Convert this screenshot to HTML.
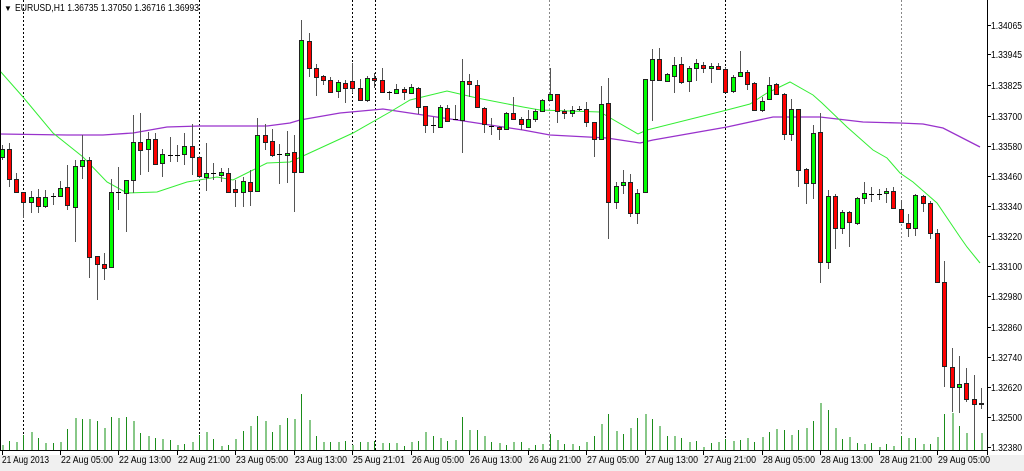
<!DOCTYPE html>
<html><head><meta charset="utf-8"><style>
html,body{margin:0;padding:0;background:#fff;}
svg{display:block;font-family:"Liberation Sans",sans-serif;}
</style></head><body>
<svg id="c" width="1024" height="471" viewBox="0 0 1024 471" xmlns="http://www.w3.org/2000/svg">
<rect x="0" y="0" width="1024" height="471" fill="#fff"/>
<rect x="0" y="455" width="1024" height="16" fill="#f0f0f0"/>
<g id="grid" stroke="#000" stroke-dasharray="2,2" stroke-width="1" shape-rendering="crispEdges">
<line x1="23.5" y1="0" x2="23.5" y2="450"/>
<line x1="199.5" y1="0" x2="199.5" y2="450"/>
<line x1="352.5" y1="0" x2="352.5" y2="450"/>
<line x1="375.5" y1="0" x2="375.5" y2="450"/>
<line x1="549.5" y1="0" x2="549.5" y2="450" stroke="#888"/>
<line x1="725.5" y1="0" x2="725.5" y2="450"/>
<line x1="901.5" y1="0" x2="901.5" y2="450" stroke="#888"/>
</g>
<g id="vol"></g>
<polyline fill="none" stroke="#9932cc" stroke-width="1.3" points="0,134 67,135 103,135 133,133 167,127 200,126 267,126 290,123 300,120 340,113 383,109 423,115 457,120 523,130 550,135 607,138 640,143 653,140 727,127 773,117 820,117 863,122 900,123 923,124 943,128 980,147"/>
<polyline fill="none" stroke="#33ee33" stroke-width="1" points="0,71 23,97 53,133 83,157 107,182 127,193 157,192 187,182 217,177 233,180 253,170 267,163 290,162 303,156 340,139 353,133 390,112 410,100 447,91 477,98 523,107 540,110 600,112 638,134 647,130 727,110 750,104 767,93 790,82 813,95 822,103 847,127 873,150 887,158 900,173 913,182 937,203 960,237 967,247 980,263"/>
<g id="cand"></g>
<g stroke="#000" shape-rendering="crispEdges">
<line x1="0.5" y1="0" x2="0.5" y2="450"/>
<line x1="987.5" y1="0" x2="987.5" y2="455"/>
<line x1="0" y1="450.5" x2="988" y2="450.5"/>
</g>
<g id="ticks" stroke="#000" shape-rendering="crispEdges"></g>
<g font-size="10" fill="#000" lengthAdjust="spacingAndGlyphs">
<text x="4" y="11"><tspan font-size="8">▼</tspan></text>
<text x="15" y="11" textLength="184" lengthAdjust="spacingAndGlyphs">EURUSD,H1  1.36735 1.37050 1.36716 1.36993</text>
<g id="pl"></g>
<text x="2" y="463" textLength="47" lengthAdjust="spacingAndGlyphs">21 Aug 2013</text>
<text x="61" y="463" textLength="52" lengthAdjust="spacingAndGlyphs">22 Aug 05:00</text>
<text x="119" y="463" textLength="52" lengthAdjust="spacingAndGlyphs">22 Aug 13:00</text>
<text x="178" y="463" textLength="52" lengthAdjust="spacingAndGlyphs">22 Aug 21:00</text>
<text x="236" y="463" textLength="52" lengthAdjust="spacingAndGlyphs">23 Aug 05:00</text>
<text x="295" y="463" textLength="52" lengthAdjust="spacingAndGlyphs">23 Aug 13:00</text>
<text x="353" y="463" textLength="52" lengthAdjust="spacingAndGlyphs">25 Aug 21:01</text>
<text x="412" y="463" textLength="52" lengthAdjust="spacingAndGlyphs">26 Aug 05:00</text>
<text x="470" y="463" textLength="52" lengthAdjust="spacingAndGlyphs">26 Aug 13:00</text>
<text x="529" y="463" textLength="52" lengthAdjust="spacingAndGlyphs">26 Aug 21:00</text>
<text x="587" y="463" textLength="52" lengthAdjust="spacingAndGlyphs">27 Aug 05:00</text>
<text x="646" y="463" textLength="52" lengthAdjust="spacingAndGlyphs">27 Aug 13:00</text>
<text x="704" y="463" textLength="52" lengthAdjust="spacingAndGlyphs">27 Aug 21:00</text>
<text x="763" y="463" textLength="52" lengthAdjust="spacingAndGlyphs">28 Aug 05:00</text>
<text x="821" y="463" textLength="52" lengthAdjust="spacingAndGlyphs">28 Aug 13:00</text>
<text x="880" y="463" textLength="52" lengthAdjust="spacingAndGlyphs">28 Aug 21:00</text>
<text x="938" y="463" textLength="52" lengthAdjust="spacingAndGlyphs">29 Aug 05:00</text>
</g>
<g font-size="10" fill="#000">
<text x="991" y="29" textLength="31" lengthAdjust="spacingAndGlyphs">1.34065</text>
<text x="991" y="58" textLength="31" lengthAdjust="spacingAndGlyphs">1.33945</text>
<text x="991" y="89" textLength="31" lengthAdjust="spacingAndGlyphs">1.33825</text>
<text x="991" y="120" textLength="31" lengthAdjust="spacingAndGlyphs">1.33700</text>
<text x="991" y="150" textLength="31" lengthAdjust="spacingAndGlyphs">1.33580</text>
<text x="991" y="180" textLength="31" lengthAdjust="spacingAndGlyphs">1.33460</text>
<text x="991" y="210" textLength="31" lengthAdjust="spacingAndGlyphs">1.33340</text>
<text x="991" y="240" textLength="31" lengthAdjust="spacingAndGlyphs">1.33220</text>
<text x="991" y="270" textLength="31" lengthAdjust="spacingAndGlyphs">1.33100</text>
<text x="991" y="300" textLength="31" lengthAdjust="spacingAndGlyphs">1.32980</text>
<text x="991" y="331" textLength="31" lengthAdjust="spacingAndGlyphs">1.32860</text>
<text x="991" y="361" textLength="31" lengthAdjust="spacingAndGlyphs">1.32740</text>
<text x="991" y="391" textLength="31" lengthAdjust="spacingAndGlyphs">1.32620</text>
<text x="991" y="421" textLength="31" lengthAdjust="spacingAndGlyphs">1.32500</text>
<text x="991" y="451" textLength="31" lengthAdjust="spacingAndGlyphs">1.32380</text>
</g>
</svg>
<script>
var D=[
[1,149,157,145,160],[0,149,179,143,187],[0,179,192,173,193],[0,192,202,192,218],[1,197,202,191,213],[0,197,206,189,213],[1,197,206,190,208],[2,196,196,193,205],[1,188,196,181,196],[0,187,205,165,210],
[1,166,207,160,242],[1,160,166,135,179],[0,160,257,157,278],[0,256,264,256,300],[0,264,268,253,280],[1,192,267,179,268],[2,192,192,167,210],[1,180,193,180,232],[1,142,180,115,193],[0,142,150,113,175],
[1,139,149,132,172],[0,139,164,133,165],[1,154,163,149,177],[2,155,155,137,162],[2,155,155,145,162],[1,146,154,133,165],[0,146,157,124,175],[0,157,176,156,178],[1,173,177,143,191],[2,173,173,163,180],
[1,172,175,168,182],[0,173,192,168,193],[0,189,192,180,207],[1,181,192,177,207],[0,182,191,170,206],[1,135,191,118,192],[0,135,142,124,150],[0,141,155,129,157],[2,154,154,144,184],[1,153,155,131,183],
[0,152,172,135,212],[1,40,172,20,172],[0,41,68,33,77],[0,68,77,64,96],[0,76,80,75,85],[0,80,92,77,92],[1,82,91,80,98],[0,83,88,80,103],[0,81,88,63,93],[0,88,100,79,100],
[1,78,100,76,102],[0,78,80,73,88],[0,80,92,68,93],[2,92,92,91,100],[1,89,93,84,94],[0,89,92,87,100],[1,87,93,84,94],[0,88,107,87,114],[0,106,125,106,133],[2,125,125,117,133],
[1,107,127,105,127],[0,108,121,105,121],[2,119,119,105,120],[1,81,120,59,153],[0,81,84,74,97],[0,85,107,80,107],[0,108,124,107,133],[2,126,126,118,135],[0,127,129,126,140],[1,113,129,112,130],
[0,113,119,97,119],[0,119,124,117,130],[1,119,127,110,127],[1,111,119,109,122],[1,100,111,99,111],[1,94,100,68,100],[0,94,111,94,123],[0,111,113,109,119],[1,110,113,106,117],[2,109,109,106,111],
[0,109,122,102,127],[0,122,139,122,157],[1,104,139,86,139],[0,103,202,78,239],[1,186,202,182,209],[1,182,185,170,194],[0,182,213,174,217],[1,193,213,189,224],[1,79,192,79,192],[1,59,80,49,121],
[0,59,80,48,80],[1,74,81,73,81],[1,65,76,57,93],[0,64,82,57,84],[1,68,81,66,92],[1,63,68,59,81],[0,65,68,62,73],[1,66,68,63,83],[0,66,69,63,69],[0,69,92,67,92],
[1,77,91,75,93],[1,72,76,51,76],[0,72,84,70,90],[0,83,110,82,110],[1,101,110,97,112],[1,85,99,77,99],[0,84,94,83,94],[0,94,134,93,140],[1,109,134,99,141],[0,109,170,109,187],
[0,169,183,168,204],[1,133,183,125,199],[0,132,262,113,283],[1,196,262,190,269],[0,196,228,194,249],[1,212,228,210,234],[0,212,222,211,247],[1,198,223,197,225],[1,193,198,182,204],[2,194,194,187,202],
[2,194,194,189,200],[1,191,193,188,203],[0,191,208,187,209],[0,209,222,200,222],[0,223,228,214,237],[1,195,228,194,236],[0,196,203,195,212],[0,203,233,201,239],[0,233,282,229,283],[0,282,366,261,387],
[0,367,387,348,412],[1,384,387,356,413],[0,383,399,368,402],[0,399,404,375,440],[1,403,404,388,409]];
var V=[5,9,8,15,18,12,7,7,8,21,32,31,31,29,22,33,32,33,29,17,14,12,11,10,5,6,8,15,18,11,4,5,11,19,24,34,29,18,25,32,31,56,30,14,8,8,8,9,5,8,8,9,7,7,7,4,8,9,18,14,12,9,10,33,20,20,14,8,7,5,8,8,2,5,6,16,10,6,6,4,8,14,26,36,19,16,22,32,36,31,24,14,14,12,8,9,3,7,8,11,9,10,12,8,13,18,21,20,15,20,22,29,47,40,22,11,13,7,6,7,3,6,4,14,12,12,6,6,13,36,37,24,17,10,17];
var NS="http://www.w3.org/2000/svg";
function el(t,a,p){var e=document.createElementNS(NS,t);for(var k in a)e.setAttribute(k,a[k]);p.appendChild(e);return e;}
var cg=document.getElementById("cand"),vg=document.getElementById("vol"),tg=document.getElementById("ticks");
for(var i=0;i<D.length;i++){
 var cx=Math.round(1.5+7.31*i),d=D[i];
 el("line",{x1:cx+0.5,y1:d[3],x2:cx+0.5,y2:d[4],stroke:"#555","stroke-width":1,"shape-rendering":"crispEdges"},cg);
 if(d[0]==2){el("line",{x1:cx-2,y1:d[1]+0.5,x2:cx+3,y2:d[1]+0.5,stroke:"#000","stroke-width":1,"shape-rendering":"crispEdges"},cg);}
 else{el("rect",{x:cx-1.5,y:d[1]+0.5,width:4,height:Math.max(1,d[2]-d[1]),fill:d[0]?"#00ff00":"#ff0000",stroke:"#222","stroke-width":1,"shape-rendering":"crispEdges"},cg);}
 var h=V[i];
 el("rect",{x:cx,y:450-h,width:(i%2?1:2),height:h,fill:(i%2?"#1a8c1a":"#88c888"),"shape-rendering":"crispEdges"},vg);
}
var py=[25,54,85,116,146,176,206,236,266,296,327,357,387,417,447];
py.forEach(function(y){el("line",{x1:987,y1:y+0.5,x2:991,y2:y+0.5},tg);});
for(var k=0;k<17;k++){var x=Math.round(1.5+7.31*8*k)+0.5;el("line",{x1:x,y1:450,x2:x,y2:455},tg);}
</script>
</body></html>
